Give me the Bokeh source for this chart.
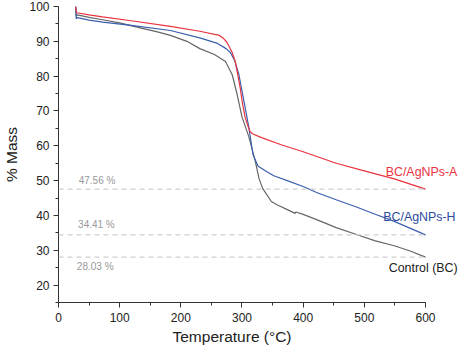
from bokeh.plotting import figure
from bokeh.models import Label, Arrow, Range1d, FixedTicker, Title
from bokeh.embed import file_html
from bokeh.resources import INLINE

# --- data ---
temp_a = [28, 29, 30, 50, 72, 119, 183, 231, 263, 270, 275, 279, 284, 289, 293, 297, 301, 305, 309, 313, 318, 330, 364, 400, 454, 500, 549, 600]
mass_a = [100, 98.6, 98.2, 97.6, 97.0, 95.9, 94.3, 92.9, 91.7, 90.8, 89.8, 88.5, 86.8, 84.2, 80.5, 76.7, 72.0, 68.3, 66.0, 64.1, 63.4, 62.5, 60.3, 58.3, 55.0, 52.8, 50.5, 47.56]

temp_h = [28, 29, 31, 50, 72, 119, 183, 231, 260, 274, 281, 288, 295, 303, 311, 318, 326, 340, 352, 374, 400, 422, 454, 486, 520, 549, 600]
mass_h = [100, 96.5, 96.8, 96.1, 95.5, 94.6, 93.1, 91.0, 89.4, 87.9, 86.8, 84.5, 80.4, 73.0, 65.5, 57.5, 54.2, 52.6, 51.4, 50.0, 48.3, 46.6, 44.5, 42.5, 40.2, 38.3, 34.41]

temp_c = [28, 29, 31, 50, 72, 100, 130, 160, 183, 210, 231, 255, 273, 284, 292, 300, 311, 321, 328, 334, 348, 358, 375, 387, 388, 400, 422, 454, 486, 518, 549, 575, 600]
mass_c = [100, 97.2, 97.6, 96.9, 96.2, 95.3, 94.0, 92.8, 91.7, 90.0, 87.9, 86.2, 84.2, 80.4, 74.8, 68.3, 62.7, 56.1, 50.5, 47.7, 44.0, 43.0, 41.6, 40.6, 41.0, 40.3, 38.8, 36.5, 34.6, 32.7, 31.3, 29.8, 28.03]

residues = [47.56, 34.41, 28.03]
residue_labels = ["47.56 %", "34.41 %", "28.03 %"]
series_names = ["BC/AgNPs-A", "BC/AgNPs-H", "Control (BC)"]

x_ticks = [0, 100, 200, 300, 400, 500, 600]
y_ticks = [20, 30, 40, 50, 60, 70, 80, 90, 100]

FONT = "Liberation Sans"
RED = "#e8333f"
BLUE = "#3a5fae"
GRAY = "#666666"

p = figure(width=458, height=345, output_backend="svg", toolbar_location=None,
           x_range=Range1d(0, 654), y_range=Range1d(15, 100),
           min_border_left=0, min_border_right=0, min_border_top=6, min_border_bottom=0)
p.outline_line_color = None
p.grid.visible = False
p.background_fill_color = "white"

for ax in (p.xaxis[0], p.yaxis[0]):
    ax.axis_line_color = "#333333"
    ax.major_tick_line_color = "#333333"
    ax.minor_tick_line_color = "#333333"
    ax.major_tick_out = 5
    ax.major_tick_in = 0
    ax.minor_tick_out = 3
    ax.minor_tick_in = 0
    ax.major_label_text_font = FONT
    ax.major_label_text_font_size = "12px"
    ax.major_label_text_color = "#222222"
    ax.axis_label_text_font = FONT
    ax.axis_label_text_font_size = "15.5px"
    ax.axis_label_text_font_style = "normal"
    ax.axis_label_text_color = "#222222"

p.xaxis.bounds = (0, 600)
p.xaxis.ticker = FixedTicker(ticks=x_ticks, minor_ticks=list(range(0, 601, 50)))
p.yaxis.ticker = FixedTicker(ticks=y_ticks, minor_ticks=list(range(15, 101, 5)))
p.yaxis.axis_label = "% Mass"
p.xaxis.major_label_standoff = 5
p.yaxis.major_label_standoff = 4
p.yaxis.axis_label_standoff = 6

xt = Title(text="Temperature (°C)", align="left", offset=114, standoff=2,
           text_font=FONT, text_font_size="15.5px", text_font_style="normal",
           text_color="#222222")
p.add_layout(xt, "below")

# residue dashed lines
for r in residues:
    p.add_layout(Arrow(end=None, x_start=0, y_start=r, x_end=600, y_end=r,
                       line_color="#cfcfcf", line_width=1.2, line_dash="5 4"))

p.line(temp_c, mass_c, line_color=GRAY, line_width=1.2)
p.line(temp_h, mass_h, line_color=BLUE, line_width=1.2)
p.line(temp_a, mass_a, line_color=RED, line_width=1.2)

# residue labels
res_x = [33, 32, 30]
res_off = [3, 5, -4]
res_base = ["bottom", "bottom", "top"]
for r, t, x, off, b in zip(residues, residue_labels, res_x, res_off, res_base):
    p.add_layout(Label(x=x, y=r, text=t, y_offset=off, text_baseline=b,
                       text_font=FONT, text_font_size="10px", text_color="#999999"))

# series labels
name_x = [535, 531, 540]
name_y = [52.6, 39.5, 24.8]
name_col = [RED, "#2c4a9a", "#222222"]
for n, x, y, c in zip(series_names, name_x, name_y, name_col):
    p.add_layout(Label(x=x, y=y, text=n, text_baseline="middle",
                       text_font=FONT, text_font_size="12.4px", text_color=c))

open("out.html", "w").write(file_html(p, INLINE))
